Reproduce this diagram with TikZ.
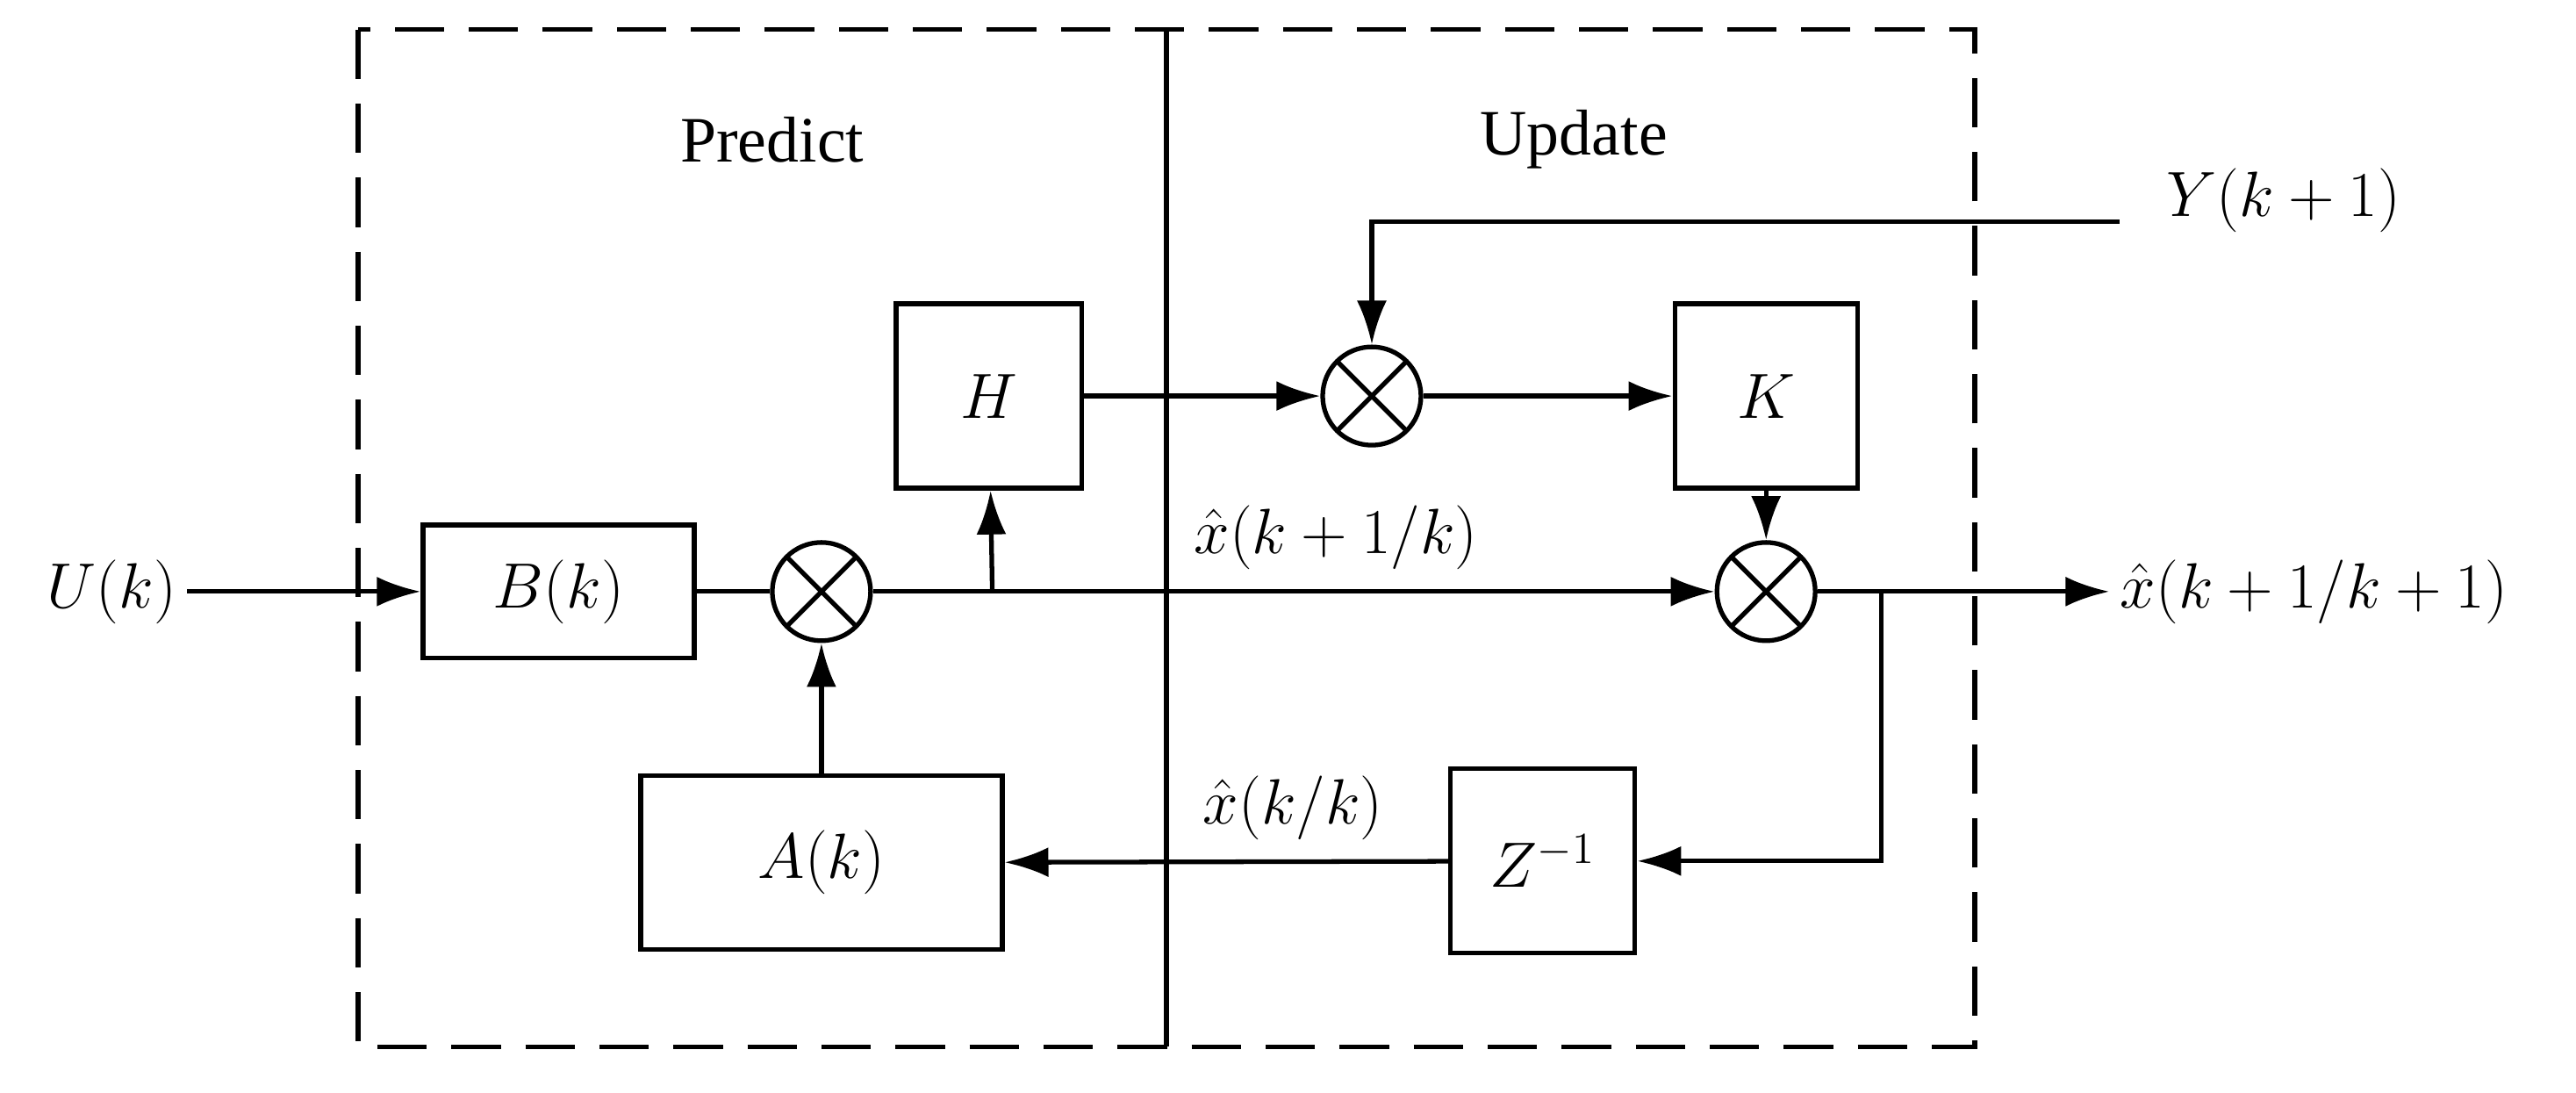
\documentclass[tikz,border=0pt]{standalone}
\usepackage{fontspec}
\setmainfont{Liberation Serif}
\usetikzlibrary{arrows.meta}
\tikzset{
  blk/.style={draw, line width=1.5pt, minimum width=#1},
  summ/.style={draw, line width=1.5pt, circle, minimum size=1.12cm, inner sep=0pt,
    path picture={\draw[line width=1.5pt] (path picture bounding box.north west) -- (path picture bounding box.south east)
      (path picture bounding box.north east) -- (path picture bounding box.south west);}},
  sig/.style={line width=1.5pt, -{Latex[length=0.5cm, width=0.34cm]}},
  lbl/.style={font=\fontsize{21}{24}\selectfont}
}
\begin{document}
\begin{tikzpicture}[x=0.01872cm, y=-0.01872cm, lbl]
\useasboundingbox (0,0) rectangle (1568,665);
% frame
\draw[line width=1.5pt, dash pattern=on 16pt off 8pt] (218,18) rectangle (1202,637);
\draw[line width=1.5pt] (710,18) -- (710,637);
\node at (470,85) {Predict};
\node at (958,85) {Update};

% blocks
\node[blk, minimum width=3.09cm, minimum height=1.52cm] (B) at (340,360) {$B(k)$};
\node[blk, minimum width=2.12cm, minimum height=2.1cm] (H) at (602,241) {$H$};
\node[blk, minimum width=2.08cm, minimum height=2.1cm] (K) at (1075,241) {$K$};
\node[blk, minimum width=4.12cm, minimum height=1.98cm] (A) at (500,525) {$A(k)$};
\node[blk, minimum width=2.1cm, minimum height=2.1cm] (Z) at (939,524) {$Z^{-1}$};
\node[summ] (s0) at (500,360) {};
\node[summ] (s1) at (835,241) {};
\node[summ] (s2) at (1075,360) {};

% signals
\node (U) at (68,360) {$U(k)$};
\node (Y) at (1390,122) {$Y(k+1)$};
\node[anchor=west] (X) at (1284,360) {$\hat{x}(k+1/k+1)$};
\coordinate (ys) at (1290,135);
\coordinate (br) at (604,360);
\coordinate (fb) at (1145,360);

\draw[sig] (U.east |- B) -- (B);
\draw[line width=1.5pt] (B) -- (s0);
\draw[sig] (br) -- (H);
\draw[sig] (s0) -- node[pos=0.55, above=3pt] {$\hat{x}(k+1/k)$} (s2);
\draw[sig] (H) -- (s1);
\draw[sig] (ys) -| (s1);
\draw[sig] (s1) -- (K);
\draw[sig] (K) -- (s2);
\draw[sig] (s2) -- (X.west);
\draw[sig] (fb) |- (Z);
\draw[sig] (Z) -- node[above=3pt, pos=0.35] {$\hat{x}(k/k)$} (A);
\draw[sig] (A) -- (s0);
\end{tikzpicture}
\end{document}
